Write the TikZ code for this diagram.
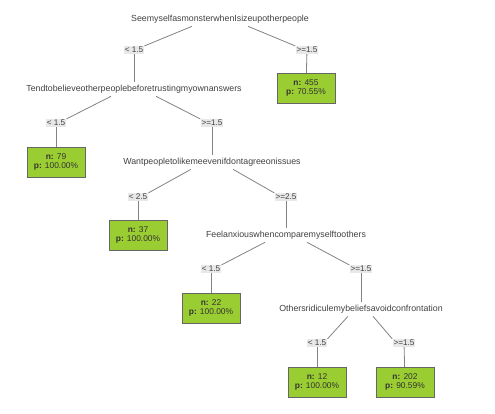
\documentclass[tikz,border=0pt]{standalone}
\usepackage{fontspec}
\setmainfont{Liberation Sans}
\usetikzlibrary{positioning}
\definecolor{leafgreen}{RGB}{154,205,50}
\definecolor{edgegray}{RGB}{130,130,130}
\definecolor{labelbg}{RGB}{232,232,232}

\begin{document}
\begin{tikzpicture}[x=1pt,y=-1pt,
  split/.style={inner sep=3pt,font=\fontsize{8.8}{10}\selectfont,text=black!75},
  cond/.style={fill=labelbg,inner sep=1pt,font=\fontsize{8.2}{9}\selectfont,text=black!75},
  leaf/.style={draw=black!60,fill=leafgreen,minimum width=58pt,minimum height=30pt,
    align=center,inner sep=1pt,font=\fontsize{8.4}{8.6}\selectfont,text=black!80},
  edge/.style={edgegray,line width=0.8pt}]
\useasboundingbox (0,0) rectangle (495,413);

% split nodes
\node[split] (root) at (220,19) {SeemyselfasmonsterwhenIsizeupotherpeople};
\node[split] (tend) at (134,89) {Tendtobelieveotherpeoplebeforetrustingmyownanswers};
\node[split] (want) at (212,162) {Wantpeopletolikemeevenifdontagreeonissues};
\node[split] (feel) at (286,235) {Feelanxiouswhencomparemyselftoothers};
\node[split] (others) at (361,309) {Othersridiculemybeliefsavoidconfrontation};

% conditions
\node[cond] (c1l) at (134,50) {< 1.5};
\node[cond] (c1r) at (307,50) {>=1.5};
\node[cond] (c2l) at (56,123) {< 1.5};
\node[cond] (c2r) at (212,123) {>=1.5};
\node[cond] (c3l) at (138,197) {< 2.5};
\node[cond] (c3r) at (286,197) {>=2.5};
\node[cond] (c4l) at (211,269) {< 1.5};
\node[cond] (c4r) at (361,269) {>=1.5};
\node[cond] (c5l) at (317,343) {< 1.5};
\node[cond] (c5r) at (404,343) {>=1.5};

% leaves
\node[leaf] (leafA) at (306,88) {\textbf{n:} 455\\\textbf{p:} 70.55\%};
\node[leaf] (leafB) at (56,162) {\textbf{n:} 79\\\textbf{p:} 100.00\%};
\node[leaf] (leafC) at (138,235) {\textbf{n:} 37\\\textbf{p:} 100.00\%};
\node[leaf] (leafD) at (211,308) {\textbf{n:} 22\\\textbf{p:} 100.00\%};
\node[leaf] (leafE) at (317,382) {\textbf{n:} 12\\\textbf{p:} 100.00\%};
\node[leaf] (leafF) at (405,382) {\textbf{n:} 202\\\textbf{p:} 90.59\%};

% edges
\draw[edge] ([xshift=-28pt]root.south) -- (c1l.north east);
\draw[edge] ([xshift=28pt]root.south) -- (c1r.north west);
\draw[edge] (c1l) -- (tend);
\draw[edge] (c1r) -- (leafA);

\draw[edge] ([xshift=-23pt]tend.south) -- (c2l.north east);
\draw[edge] ([xshift=22pt]tend.south) -- (c2r.north west);
\draw[edge] (c2l) -- (leafB);
\draw[edge] (c2r) -- (want);

\draw[edge] ([xshift=-21pt]want.south) -- (c3l.north east);
\draw[edge] ([xshift=21pt]want.south) -- (c3r.north west);
\draw[edge] (c3l) -- (leafC);
\draw[edge] (c3r) -- (feel);

\draw[edge] ([xshift=-21pt]feel.south) -- (c4l.north east);
\draw[edge] ([xshift=21pt]feel.south) -- (c4r.north west);
\draw[edge] (c4l) -- (leafD);
\draw[edge] (c4r) -- (others);

\draw[edge] ([xshift=-13pt]others.south) -- (c5l.north east);
\draw[edge] ([xshift=12pt]others.south) -- (c5r.north west);
\draw[edge] (c5l) -- (leafE);
\draw[edge] (c5r) -- (leafF);
\end{tikzpicture}
\end{document}
